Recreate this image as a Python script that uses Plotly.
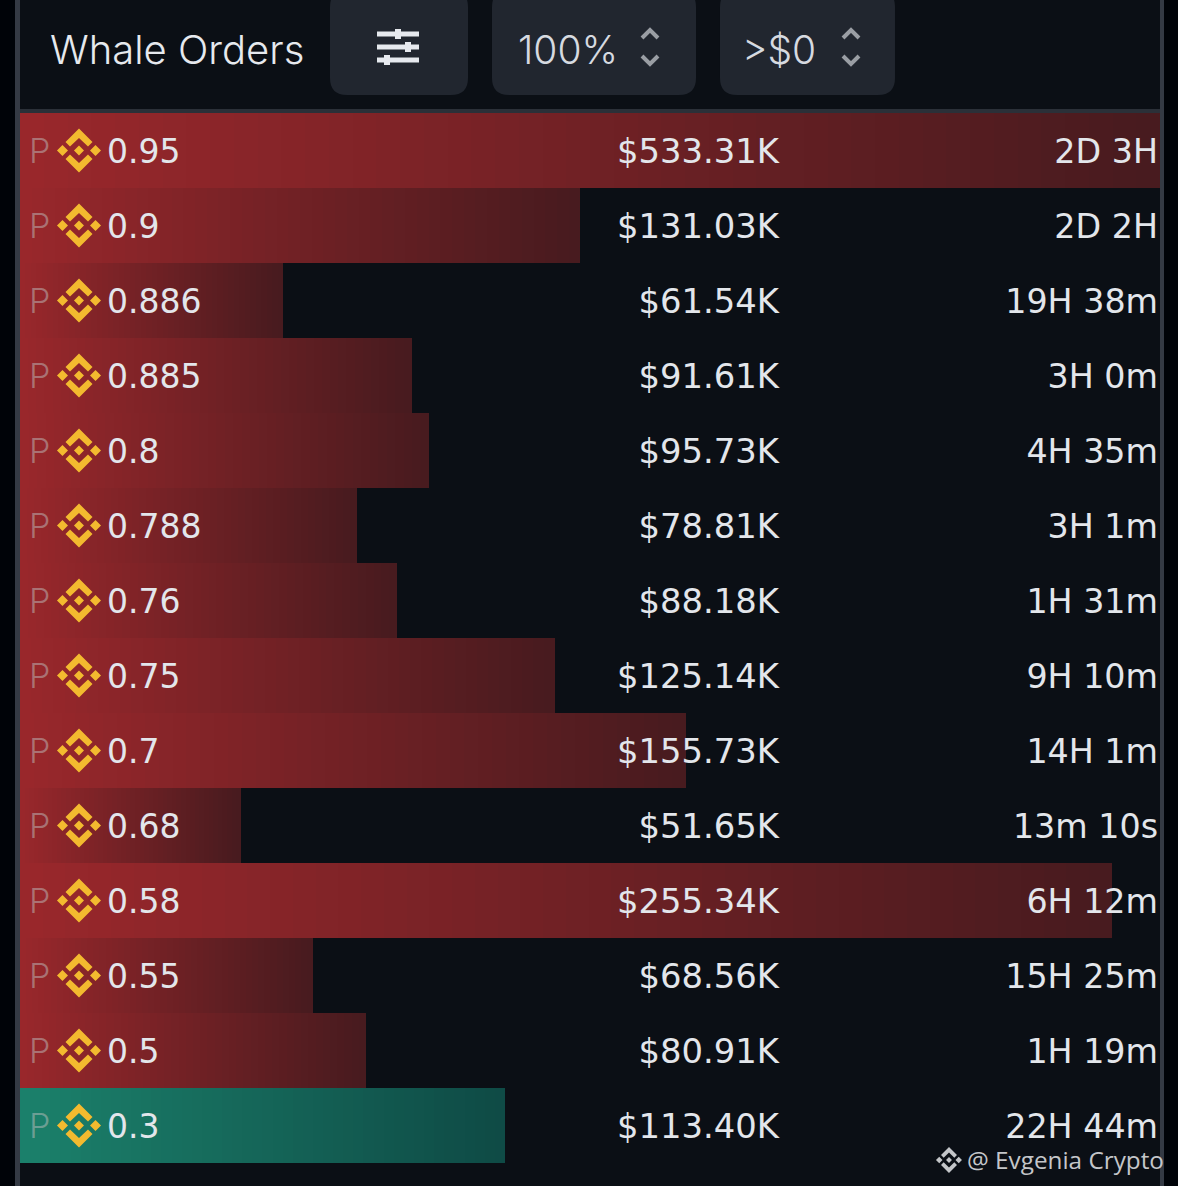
import plotly.graph_objects as go

W = 1178
H = 1186

prices = ["0.95", "0.9", "0.886", "0.885", "0.8", "0.788", "0.76", "0.75", "0.7", "0.68", "0.58", "0.55", "0.5", "0.3"]
values_k = [533.31, 131.03, 61.54, 91.61, 95.73, 78.81, 88.18, 125.14, 155.73, 51.65, 255.34, 68.56, 80.91, 113.40]
value_labels = ["$533.31K", "$131.03K", "$61.54K", "$91.61K", "$95.73K", "$78.81K", "$88.18K",
                "$125.14K", "$155.73K", "$51.65K", "$255.34K", "$68.56K", "$80.91K", "$113.40K"]
ages = ["2D 3H", "2D 2H", "19H 38m", "3H 0m", "4H 35m", "3H 1m", "1H 31m",
        "9H 10m", "14H 1m", "13m 10s", "6H 12m", "15H 25m", "1H 19m", "22H 44m"]
sides = ["sell"] * 13 + ["buy"]

# axis is capped, the biggest order just runs off the panel
x_max = 266.6
STEPS = 48
HEAD_FONT = "Inter"
ROW_FONT = "DejaVu Sans"
TEXT_COL = "#e3e6eb"


def px_x(p):
    return p / W


def px_y(p):
    return 1 - p / H


def x_val(p):
    # pixel -> axis value, used for the text columns
    return (p - 20) / (1140 / x_max)


def mix(a, b, t):
    return "rgb(%d,%d,%d)" % tuple(a[i] + (b[i] - a[i]) * t for i in range(3))


def rect(x0, y0, x1, y1, color):
    return dict(type="rect", xref="paper", yref="paper", x0=px_x(x0), x1=px_x(x1),
                y0=px_y(y0), y1=px_y(y1), fillcolor=color, line_width=0, layer="above")


def round_box(x0, y0, x1, y1, r, color):
    p = "M%f,%f L%f,%f Q%f,%f %f,%f L%f,%f Q%f,%f %f,%f L%f,%f Q%f,%f %f,%f L%f,%f Q%f,%f %f,%f Z" % (
        px_x(x0 + r), px_y(y0), px_x(x1 - r), px_y(y0), px_x(x1), px_y(y0), px_x(x1), px_y(y0 + r),
        px_x(x1), px_y(y1 - r), px_x(x1), px_y(y1), px_x(x1 - r), px_y(y1),
        px_x(x0 + r), px_y(y1), px_x(x0), px_y(y1), px_x(x0), px_y(y1 - r),
        px_x(x0), px_y(y0 + r), px_x(x0), px_y(y0), px_x(x0 + r), px_y(y0))
    return dict(type="path", xref="paper", yref="paper", path=p, fillcolor=color, line_width=0, layer="above")


def poly(points):
    return "M" + " L".join("%f,%f" % (px_x(a), px_y(b)) for a, b in points) + " Z "


def bnb_logo(cx, cy, s, color):
    # s is half the logo height
    u = s / 22.0
    d = ""
    for sign in (-1, 1):
        # chevrons top and bottom
        d += poly([(cx, cy + sign * 22 * u), (cx + 13.5 * u, cy + sign * 8.5 * u), (cx + 9 * u, cy + sign * 4 * u),
                   (cx, cy + sign * 12.5 * u), (cx - 9 * u, cy + sign * 4 * u), (cx - 13.5 * u, cy + sign * 8.5 * u)])
        # side dots
        d += poly([(cx + sign * 16.5 * u, cy - 5.5 * u), (cx + sign * 22 * u, cy), (cx + sign * 16.5 * u, cy + 5.5 * u),
                   (cx + sign * 11 * u, cy)])
    d += poly([(cx, cy - 5 * u), (cx + 5 * u, cy), (cx, cy + 5 * u), (cx - 5 * u, cy)])
    return dict(type="path", xref="paper", yref="paper", path=d, fillcolor=color, line_width=0, layer="above")


def line(x0, y0, x1, y1, color, w):
    return dict(type="line", xref="paper", yref="paper", x0=px_x(x0), x1=px_x(x1), y0=px_y(y0), y1=px_y(y1),
                line=dict(color=color, width=w), layer="above")


def chevron(cx, cy, up, color):
    s = -1 if up else 1
    p = "M%f,%f L%f,%f L%f,%f" % (px_x(cx - 8), px_y(cy - s * 4), px_x(cx), px_y(cy + s * 4), px_x(cx + 8), px_y(cy - s * 4))
    return dict(type="path", xref="paper", yref="paper", path=p, line=dict(color=color, width=4), layer="above")


left_cols = {"sell": (155, 40, 44), "buy": (28, 130, 108)}
right_cols = {"sell": (72, 27, 31), "buy": (15, 75, 70)}
visible = [min(v, x_max) for v in values_k]

fig = go.Figure()

# gradient bars: long dark bar first, shorter lighter ones over it
for s in range(STEPS):
    frac = 1 - s / STEPS
    fig.add_trace(go.Bar(
        y=prices,
        x=[v * frac for v in visible],
        orientation="h",
        marker=dict(color=[mix(left_cols[k], right_cols[k], frac) for k in sides], line_width=0),
        hoverinfo="skip",
        showlegend=False,
    ))

# text sits on y2, same rows nudged 4px down so it centres like the original
fig.add_trace(go.Scatter(x=[x_val(29)] * len(prices), y=prices, yaxis="y2", mode="text", text=["P"] * len(prices),
                         textposition="middle right", cliponaxis=False, hoverinfo="skip", showlegend=False,
                         textfont=dict(family=HEAD_FONT, size=34, color="rgba(190,190,190,0.5)", weight=300)))
fig.add_trace(go.Scatter(x=[x_val(107)] * len(prices), y=prices, yaxis="y2", mode="text", text=prices,
                         textposition="middle right", cliponaxis=False, hoverinfo="skip", showlegend=False,
                         textfont=dict(family=ROW_FONT, size=33, color=TEXT_COL)))
fig.add_trace(go.Scatter(x=[x_val(779)] * len(prices), y=prices, yaxis="y2", mode="text", text=value_labels,
                         textposition="middle left", cliponaxis=False, hoverinfo="skip", showlegend=False,
                         textfont=dict(family=ROW_FONT, size=33.8, color=TEXT_COL)))
fig.add_trace(go.Scatter(x=[x_val(1158)] * len(prices), y=prices, yaxis="y2", mode="text", text=ages,
                         textposition="middle left", cliponaxis=False, hoverinfo="skip", showlegend=False,
                         textfont=dict(family=ROW_FONT, size=33.3, color=TEXT_COL)))

shapes = [
    rect(0, 0, 15, H, "#000308"),
    rect(15, 0, 20, H, "#343a44"),
    rect(1160, 0, 1164, H, "#343a44"),
    rect(1164, 0, W, H, "#000308"),
    rect(20, 109, 1160, 113, "#2b3038"),
    round_box(330, -10, 468, 95, 17, "#21262f"),
    round_box(492, -10, 696, 95, 17, "#21262f"),
    round_box(720, -10, 895, 95, 17, "#21262f"),
]

# slider icon in the first button
for yy, knob in [(34, 398), (47, 408), (60, 387)]:
    shapes.append(line(377, yy, 419, yy, "#e6e9ee", 5))
    shapes.append(rect(knob - 3, yy - 5, knob + 3, yy + 5, "#e6e9ee"))

for cx in (650, 851):
    shapes.append(chevron(cx, 34, True, "#9a9ea4"))
    shapes.append(chevron(cx, 60, False, "#9a9ea4"))

for i in range(len(prices)):
    shapes.append(bnb_logo(79, 150.5 + 75 * i, 22, "#f3ba2f"))
shapes.append(bnb_logo(949, 1160, 13, "#c4c6c9"))

annots = [
    dict(text="Whale Orders", x=px_x(47.5), y=px_y(49), xref="paper", yref="paper", xanchor="left", yanchor="middle",
         showarrow=False, font=dict(family=HEAD_FONT, size=40, color="#e6e9ee", weight=300)),
    dict(text="100%", x=px_x(516), y=px_y(49), xref="paper", yref="paper", xanchor="left", yanchor="middle",
         showarrow=False, font=dict(family=HEAD_FONT, size=39, color="#d6dae0", weight=300)),
    dict(text=">$0", x=px_x(740), y=px_y(49), xref="paper", yref="paper", xanchor="left", yanchor="middle",
         showarrow=False, font=dict(family=HEAD_FONT, size=39, color="#d6dae0", weight=300)),
    dict(text="@ Evgenia Crypto", x=px_x(1166), y=px_y(1159), xref="paper", yref="paper", xanchor="right", yanchor="middle",
         showarrow=False, font=dict(family="Open Sans", size=24.3, color="#c4c6c9")),
]

fig.update_layout(
    width=W,
    height=H,
    margin=dict(l=0, r=0, t=0, b=0),
    paper_bgcolor="#0b0f15",
    plot_bgcolor="rgba(0,0,0,0)",
    barmode="overlay",
    bargap=0,
    showlegend=False,
    shapes=shapes,
    annotations=annots,
    xaxis=dict(domain=[px_x(20), px_x(1160)], range=[0, x_max], visible=False, fixedrange=True),
    yaxis=dict(domain=[px_y(1163), px_y(113)], type="category", categoryorder="array", categoryarray=prices,
               range=[len(prices) - 0.5, -0.5], visible=False, fixedrange=True),
    yaxis2=dict(domain=[px_y(1167), px_y(117)], type="category", categoryorder="array", categoryarray=prices,
                range=[len(prices) - 0.5, -0.5], visible=False, fixedrange=True, anchor="x"),
)

fig.write_html("out.html", config={"displayModeBar": False}, post_script="document.body.style.margin='0';")
